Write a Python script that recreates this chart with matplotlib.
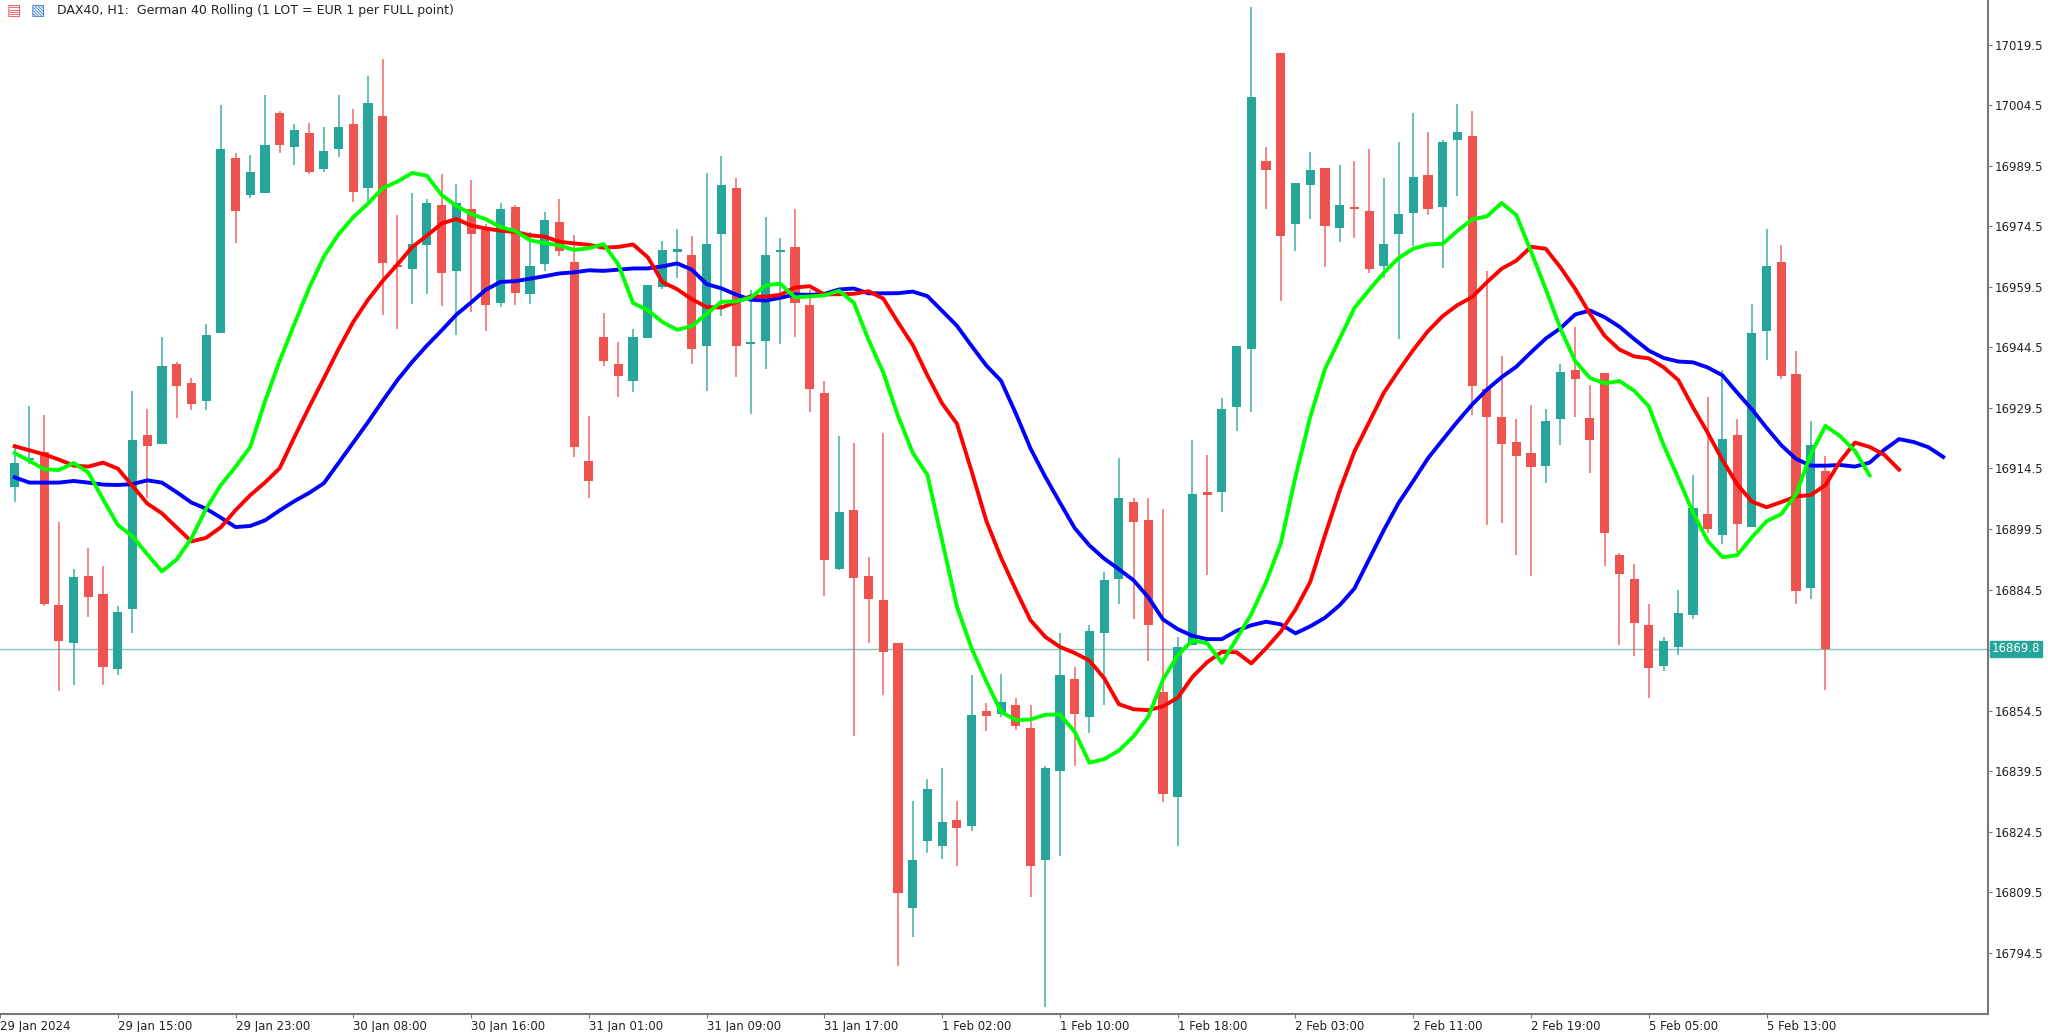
import matplotlib
matplotlib.use("Agg")
import matplotlib.pyplot as plt
import matplotlib.transforms as mtransforms
import numpy as np

opens = [16909.9,16916.5,16918.7,16880.7,16871.2,16887.8,16883.3,16864.8,16879.7,16922.8,
16920.5,16940.4,16935.6,16931.1,16948.0,16991.4,16982.3,16982.8,17002.7,16994.2,
16997.6,16988.8,16993.6,16999.9,16984.1,17001.9,16965.0,16963.9,16969.8,16979.9,
16963.4,16978.9,16973.7,16955.5,16979.4,16957.7,16965.2,16975.6,16965.7,16916.4,
16947.2,16940.4,16936.3,16946.9,16959.5,16968.1,16967.5,16944.8,16972.5,16983.9,
16945.4,16946.1,16968.1,16969.4,16954.9,16933.2,16889.6,16904.1,16887.8,16881.8,
16871.2,16805.6,16822.2,16820.9,16827.5,16826.0,16854.5,16853.7,16856.0,16850.3,
16817.5,16839.4,16862.2,16852.8,16873.6,16887.2,16906.1,16901.7,16859.0,16833.2,
16870.7,16908.6,16908.7,16929.8,16944.1,16990.6,17017.4,16975.1,16984.7,16989.0,
16974.1,16979.0,16978.2,16964.8,16972.7,16977.7,16987.2,16979.2,16995.9,16996.8,
16934.3,16927.2,16921.0,16918.3,16915.2,16926.7,16938.9,16927.0,16938.1,16893.1,
16887.2,16875.6,16865.6,16870.2,16878.2,16903.3,16898.1,16922.8,16900.1,16948.5,
16965.7,16937.9,16884.8,16913.9]
highs = [16920.5,16929.9,16927.8,16901.2,16889.5,16894.9,16890.3,16880.5,16933.7,16929.3,
16947.1,16940.9,16936.9,16950.2,17004.5,16992.7,16992.1,17007.1,17003.2,16999.9,
17000.1,16999.1,17007.1,17003.5,17011.8,17015.9,16977.2,16982.8,16981.3,16987.4,
16985.1,16985.9,16975.1,16980.3,16979.9,16973.2,16978.1,16981.3,16972.4,16927.6,
16953.1,16945.8,16949.0,16960.0,16970.9,16973.8,16972.0,16987.7,16991.9,16986.5,
16958.8,16976.9,16971.5,16978.9,16958.8,16936.3,16922.6,16920.8,16892.6,16923.4,
16871.2,16832.0,16837.6,16840.2,16832.2,16863.2,16856.3,16863.5,16857.7,16856.0,
16840.8,16873.6,16865.2,16875.6,16888.8,16917.2,16907.1,16907.1,16904.5,16872.8,
16921.6,16917.8,16931.9,16944.9,17028.8,16994.1,17017.4,16985.2,16992.9,16989.0,
16989.6,16990.6,16993.7,16986.5,16995.4,17002.7,16997.8,16995.9,17004.8,17003.2,
16963.4,16942.3,16926.7,16930.3,16929.3,16940.4,16949.5,16935.2,16938.1,16893.5,
16890.9,16881.0,16872.7,16884.4,16912.8,16932.1,16938.9,16926.8,16955.2,16973.8,
16969.9,16943.6,16926.3,16917.5]
lows = [16906.3,16915.6,16880.5,16859.3,16860.9,16877.6,16860.9,16863.4,16873.6,16907.1,
16920.5,16927.0,16928.9,16929.1,16948.0,16970.4,16981.6,16982.8,16992.7,16989.6,
16987.4,16988.0,16991.8,16980.5,16980.8,16952.6,16949.0,16955.2,16957.7,16954.7,
16947.7,16953.4,16948.5,16954.6,16955.1,16955.2,16963.4,16967.1,16917.4,16907.1,
16940.0,16932.2,16933.4,16946.9,16959.0,16961.6,16940.5,16933.8,16952.3,16937.1,
16928.1,16939.1,16945.4,16947.2,16928.5,16882.8,16889.3,16848.2,16871.2,16858.3,
16791.2,16798.4,16819.3,16817.7,16815.9,16824.7,16849.5,16852.8,16849.8,16808.2,
16781.0,16818.5,16840.8,16849.0,16856.0,16880.8,16877.1,16866.8,16831.9,16821.0,
16870.7,16888.2,16903.8,16923.7,16928.5,16978.7,16955.9,16968.3,16976.3,16964.5,
16970.6,16971.7,16962.9,16961.6,16946.6,16969.7,16977.2,16964.2,16982.1,16927.8,
16900.6,16900.9,16893.1,16887.8,16911.0,16920.3,16927.3,16913.4,16890.3,16870.7,
16867.9,16857.7,16864.2,16868.3,16877.1,16898.4,16895.7,16893.9,16900.1,16941.5,
16936.6,16881.0,16882.1,16859.6]
closes = [16915.9,16916.9,16881.0,16871.7,16887.5,16882.6,16865.3,16878.9,16921.6,16920.1,
16939.9,16935.0,16930.4,16947.5,16993.7,16978.2,16988.0,16994.7,16994.7,16998.3,
16988.0,16993.1,16999.1,16983.1,17005.1,16965.5,16964.5,16970.2,16980.3,16962.9,
16980.3,16972.7,16955.1,16978.7,16958.0,16964.7,16976.1,16968.3,16919.7,16911.5,
16941.2,16937.4,16947.2,16960.0,16968.6,16968.9,16944.0,16970.2,16984.7,16944.8,
16945.8,16967.3,16968.4,16955.4,16934.3,16891.7,16903.8,16887.3,16882.1,16869.1,
16809.2,16817.5,16835.1,16827.0,16825.5,16853.4,16853.1,16856.5,16850.6,16816.0,
16840.2,16863.2,16853.7,16874.3,16886.9,16907.1,16901.2,16875.6,16833.7,16870.2,
16908.1,16907.9,16929.3,16944.9,17006.5,16988.5,16972.2,16985.2,16988.5,16974.5,
16979.7,16978.7,16963.9,16970.1,16977.6,16986.7,16978.7,16995.4,16998.0,16935.0,
16927.3,16920.5,16917.7,16914.8,16926.3,16938.4,16936.6,16921.6,16898.6,16888.3,
16876.1,16865.0,16871.8,16878.7,16904.8,16899.6,16921.8,16900.7,16948.0,16964.8,
16937.4,16884.1,16920.3,16869.8]

# Alligator lines: values shown before the first candle's own data takes effect
jaw_lead = [16912.3,16911.0,16911.0,16911.0,16911.4,16911.0,16910.5,16910.4]
teeth_lead = [16920.0,16919.0,16918.0,16916.7,16915.2]
lips_lead = [16918.3,16916.4,16914.3]

tick_pos = [0,8,16,24,32,40,48,56,64,72,80,88,96,104,112,120]
tick_labels = ["29 Jan 2024","29 Jan 15:00","29 Jan 23:00","30 Jan 08:00","30 Jan 16:00",
"31 Jan 01:00","31 Jan 09:00","31 Jan 17:00","1 Feb 02:00","1 Feb 10:00","1 Feb 18:00",
"2 Feb 03:00","2 Feb 11:00","2 Feb 19:00","5 Feb 05:00","5 Feb 13:00"]
price_ticks = [16794.5 + 15*i for i in range(16)]
last_price = 16869.8

UP = "#26a69a"; DN = "#ef5350"

fig = plt.figure(figsize=(20.48, 10.32), dpi=100)
ax = fig.add_axes([0, 1-1014/1032, 1988/2048, 1014/1032])

o = np.array(opens); h = np.array(highs); l = np.array(lows); c = np.array(closes)
n = len(o)
x = np.arange(1, n+1)
up = c >= o
cols = np.where(up, UP, DN)
ax.vlines(x, l, h, colors=cols, linewidth=1.3, alpha=0.75, zorder=2)
bot = np.minimum(o, c); ht = np.maximum(np.abs(c-o), 0.5)
ax.bar(x, ht, bottom=bot, width=0.62, color=cols, zorder=3, linewidth=0)

med = (h + l) / 2
def smma(period, lead):
    s = lead[-1]
    vals = []
    for m in med:
        s = (s*(period-1) + m) / period
        vals.append(s)
    ys = list(lead) + vals
    xs = np.arange(1, len(ys)+1)
    return xs, ys
for period, lead, col in [(13, jaw_lead, "#0000ff"), (8, teeth_lead, "#ff0000"), (5, lips_lead, "#00ff00")]:
    xs, ys = smma(period, lead)
    ax.plot(xs, ys, color=col, linewidth=2.8, zorder=4, solid_joinstyle="round")

ax.axhline(last_price, color="#7fc4bf", linewidth=1.0, zorder=1)

ax.set_xlim(0.438, 135.04)
ax.set_ylim(16779.3, 17030.6)
for s in ["top", "left"]:
    ax.spines[s].set_visible(False)
for s in ["right", "bottom"]:
    ax.spines[s].set_color("#777777"); ax.spines[s].set_linewidth(1.5)
ax.yaxis.tick_right()
ax.set_yticks(price_ticks)
ax.set_yticklabels([f"{p:.1f}" for p in price_ticks], fontsize=8.5)
ax.set_xticks(tick_pos)
ax.set_xticklabels(tick_labels, fontsize=8.5, ha="left")
ax.tick_params(axis="y", length=3, color="#777777", labelcolor="#222222", pad=2)
ax.tick_params(axis="x", length=3, color="#777777", labelcolor="#222222", pad=1)

trans = mtransforms.blended_transform_factory(ax.transAxes, ax.transData)
ax.text(1.002, last_price, f"{last_price:.1f}", transform=trans, fontsize=8.5, color="white",
        va="center", ha="left", bbox=dict(boxstyle="square,pad=0.15", fc=UP, ec=UP), zorder=6, clip_on=False)

fig.text(0.003, 0.990, "\u25a4", color=DN, fontsize=11, va="center")
fig.text(0.015, 0.990, "\u25a7", color="#3a7bd5", fontsize=11, va="center")
fig.text(0.028, 0.990, "DAX40, H1:  German 40 Rolling (1 LOT = EUR 1 per FULL point)",
         fontsize=9, color="#222222", va="center")

fig.savefig("out.png", dpi=100)
